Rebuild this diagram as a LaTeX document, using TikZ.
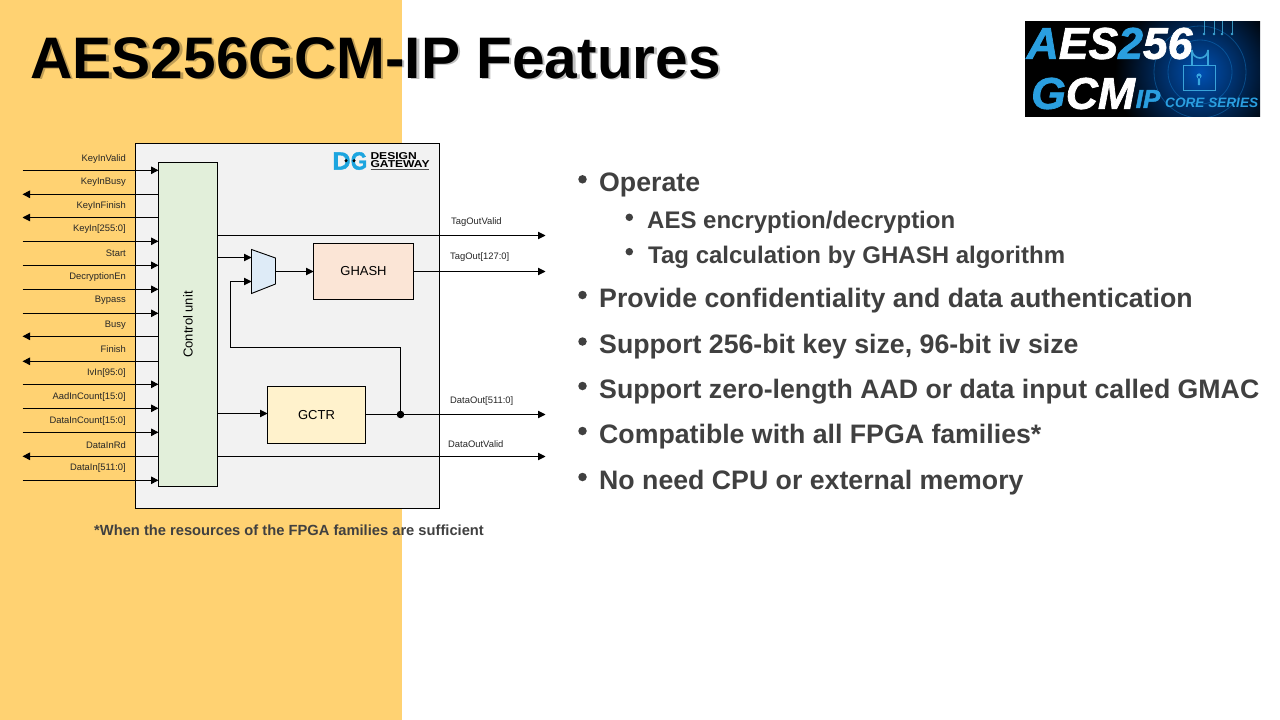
\documentclass[tikz,border=0pt]{standalone}
\usepackage{fontspec}
\setmainfont{Liberation Sans}
\newfontfamily\badgefont[BoldItalicFeatures={FakeBold=1.6}]{Liberation Sans}
\newfontfamily\markfont[BoldFeatures={FakeBold=1.5}]{Liberation Sans}
\usepackage{xcolor}
\usetikzlibrary{arrows.meta,calc,positioning}
\definecolor{bgorange}{HTML}{FFD272}
\definecolor{txtgrey}{HTML}{404040}
\definecolor{dgblue}{HTML}{1CA5DF}
\definecolor{badgeblue}{HTML}{2A9FE0}
\tikzset{
	sig/.style={draw=black, line width=0.9pt},
	arr/.style={sig, -{Triangle[length=7.5pt,width=7.5pt]}},
	blockbox/.style={draw=black, line width=0.9pt, anchor=north west, inner sep=0pt, outer sep=0pt, font=\fontsize{13}{15}\selectfont},
	siglabel/.style={anchor=east, inner sep=0pt, yshift=-0.8pt, font=\fontsize{9.4}{11}\selectfont, text=black!85},
	outlabel/.style={anchor=west, inner sep=0pt, font=\fontsize{9.4}{11}\selectfont, text=black!85},
	mainitem/.style={anchor=west, inner sep=0pt, text=txtgrey, font=\bfseries\fontsize{26.7}{30}\selectfont},
	subitem/.style={anchor=west, inner sep=0pt, text=txtgrey, font=\bfseries\fontsize{24}{27}\selectfont},
	dotmark/.style={circle, fill=txtgrey, inner sep=0pt, minimum size=8.5pt},
	subdot/.style={circle, fill=txtgrey, inner sep=0pt, minimum size=7.5pt},
	badgetext/.style={anchor=west, inner sep=0pt, font=\badgefont\bfseries\itshape\fontsize{44.5}{48}\selectfont},
}
\begin{document}
\begin{tikzpicture}[x=1pt, y=-1pt]
	\useasboundingbox (0,0) rectangle (1280,720);
	% Background
	\fill[white] (0,0) rectangle (1280,720);
	\fill[bgorange] (0,0) rectangle (401.5,720);
	% Title
	\node[anchor=west, inner sep=0pt, text=black, opacity=.25, font=\bfseries\fontsize{58.6}{62}\selectfont] (titleshadow) at (32.6,59.8) {AES256GCM-IP Features};
	\node[anchor=west, inner sep=0pt, text=black, font=\bfseries\fontsize{58.6}{62}\selectfont] (title) at (30.3,58) {AES256GCM-IP Features};
	% Series badge
	\fill[black] (1025,21) rectangle (1260,117);
	\begin{scope}
		\clip (1025,21) rectangle (1260,116.5);
		\shade[inner color=blue!55!cyan!70!black, outer color=black] (1200,72) circle (85);
		\draw[cyan!60!blue, opacity=.45, line width=0.8pt] (1200,72) circle (32) (1200,72) circle (46);
		\foreach \x in {1204,1214,1222,1232}{
			\draw[cyan!70!white, opacity=.7, line width=0.8pt] (\x,21) -- (\x,33);
			\fill[cyan!70!white, opacity=.8] (\x,34) circle (1.3);
		}
		\draw[cyan!70!white, opacity=.75, line width=1pt] (1183,65) rectangle (1215,90);
		\draw[cyan!70!white, opacity=.75, line width=1.6pt] (1192,65) -- (1192,50) arc[start angle=180, end angle=0, radius=8] -- (1208,65);
		\fill[cyan!70!white, opacity=.75] (1199,76) circle (2.6) (1197.8,76) rectangle (1200.2,85);
	\end{scope}
	\fill[white] (1025,117) rectangle (1260,119);
	\node[badgetext] (badgetop) at (1026.5,43.5) {\textcolor{badgeblue}{A}\textcolor{white}{ES}\textcolor{badgeblue}{2}\textcolor{white}{56}};
	\node[badgetext] (badgegcm) at (1031,93.5) {\textcolor{badgeblue}{G}\textcolor{white}{CM}};
	\node[anchor=west, inner sep=0pt, text=badgeblue, font=\badgefont\bfseries\itshape\fontsize{26}{28}\selectfont] (badgeip) at (1135.5,99) {IP};
	\node[anchor=west, inner sep=0pt, text=badgeblue, font=\bfseries\itshape\fontsize{13.6}{15}\selectfont] (badgecore) at (1165,103) {CORE SERIES};
	% Outer block
	\node[blockbox, fill=black!5, minimum width=304pt, minimum height=365pt] (ip) at (135.5,143.5) {};
	% Company mark
	\node[anchor=west, inner sep=0pt, text=dgblue, font=\markfont\bfseries\fontsize{25}{25}\selectfont] (dgd) at (332.3,161) {D};
	\node[anchor=east, inner sep=0pt, text=dgblue, font=\markfont\bfseries\fontsize{25}{25}\selectfont] (dgg) at (367.5,161) {\scalebox{.85}[1]{G}};
	\fill (346,160.7) circle (1.7) (354,160.7) circle (1.7);
	\node[anchor=west, inner sep=0pt, align=left, font=\bfseries\fontsize{10}{8.4}\selectfont] (dgname) at (370.3,159.8) {\scalebox{1.21}[1]{DESIGN}\\\scalebox{1.21}[1]{GATEWAY}};
	\draw[black!70, line width=1.2pt] (370.5,169.2) -- (429,169.2);
	% Inner blocks
	\node[blockbox, fill={rgb,255:red,226;green,239;blue,218}, minimum width=59pt, minimum height=324pt] (ctrl) at (158.5,162.5) {};
	\node[rotate=90, font=\fontsize{13}{15}\selectfont] (ctrllabel) at (ctrl.center) {Control unit};
	\node[blockbox, fill={rgb,255:red,251;green,229;blue,214}, minimum width=100pt, minimum height=56pt] (ghash) at (313.5,243.5) {};
	\node[font=\fontsize{13}{15}\selectfont] (ghashlabel) at (ghash.center) {GHASH};
	\node[blockbox, fill={rgb,255:red,255;green,242;blue,204}, minimum width=98pt, minimum height=57pt] (gctr) at (267.5,386.5) {};
	\node[font=\fontsize{13}{15}\selectfont] (gctrlabel) at (gctr.center) {GCTR};
	% Mux
	\draw[sig, fill={rgb,255:red,222;green,235;blue,247}] (251.5,249.5) -- (275.5,258) -- (275.5,284) -- (251.5,293.5) -- cycle;
	\coordinate (muxa) at (251.5,257.5);
	\coordinate (muxb) at (251.5,281.5);
	\coordinate (muxo) at (275.5,271.5);
	% Left side signals
	\foreach \y/\ly/\name in {170.3/158/KeyInValid,241.3/228/KeyIn[255:0],265.3/252/Start,289.3/276/DecryptionEn,313.3/299/Bypass,384.3/372/IvIn[95:0],408.3/396/AadInCount[15:0],432.3/420/DataInCount[15:0],480.3/467/DataIn[511:0]}{
		\coordinate (pin) at (22.5,\y);
		\draw[arr] (pin) -- (ctrl.west |- pin);
		\node[siglabel] at (126,\ly) {\name};
	}
	\foreach \y/\ly/\name in {194.3/181/KeyInBusy,217.5/205/KeyInFinish,336.3/324/Busy,361.3/348/Finish,456.3/444/DataInRd}{
		\coordinate (pin) at (22.5,\y);
		\draw[arr] (ctrl.west |- pin) -- (pin);
		\node[siglabel] at (126,\ly) {\name};
	}
	% Right side signals
	\coordinate (tagvend) at (545.5,235.5);
	\coordinate (tago) at (545.5,271.5);
	\draw[arr] (ctrl.east |- tagvend) -- (tagvend);
	\node[outlabel] at (451,222) {TagOutValid};
	\draw[arr] (ghash.east |- tago) -- (tago);
	\node[outlabel] at (450,257) {TagOut[127:0]};
	\draw[arr] (ctrl.east |- muxa) -- (muxa);
	\draw[arr] (muxo) -- (ghash.west |- muxo);
	% Data path
	\coordinate (split) at (400.5,414.5);
	\coordinate (dataend) at (545.5,414.5);
	\coordinate (gctrin) at (267.5,413.5);
	\coordinate (fbtop) at (400.5,347.5);
	\coordinate (validend) at (545.5,456.5);
	\draw[arr] (gctr.east |- split) -- (dataend);
	\node[outlabel] at (450,401) {DataOut[511:0]};
	\fill (split) circle (3.8pt);
	\draw[arr] (split) -- (fbtop) -| (230.5,281.5) -- (muxb);
	\draw[arr] (ctrl.east |- gctrin) -- (gctrin);
	\draw[arr] (ctrl.east |- validend) -- (validend);
	\node[outlabel] at (448,444) {DataOutValid};
	% Footnote
	\node[anchor=west, inner sep=0pt, text=txtgrey, font=\bfseries\fontsize{14.7}{16}\selectfont] (note) at (94,530) {*When the resources of the FPGA families are sufficient};
	% Feature list
	\foreach \y/\by/\txt in {185/179.3/Operate,301/295/Provide confidentiality and data authentication,346.5/341.5/Support 256-bit key size{,} 96-bit iv size,392/386/Support zero-length AAD or data input called GMAC,437/431/Compatible with all FPGA families*,483/477/No need CPU or external memory}{
		\node[mainitem] at (599,\y) {\txt};
		\node[dotmark] at (582.5,\by) {};
	}
	\node[subitem] (subaes) at (647,222.5) {AES encryption/decryption};
	\node[subdot] at (629.3,217.3) {};
	\node[subitem] (subtag) at (648,257.5) {Tag calculation by GHASH algorithm};
	\node[subdot] at (629.3,251.7) {};
\end{tikzpicture}
\end{document}
